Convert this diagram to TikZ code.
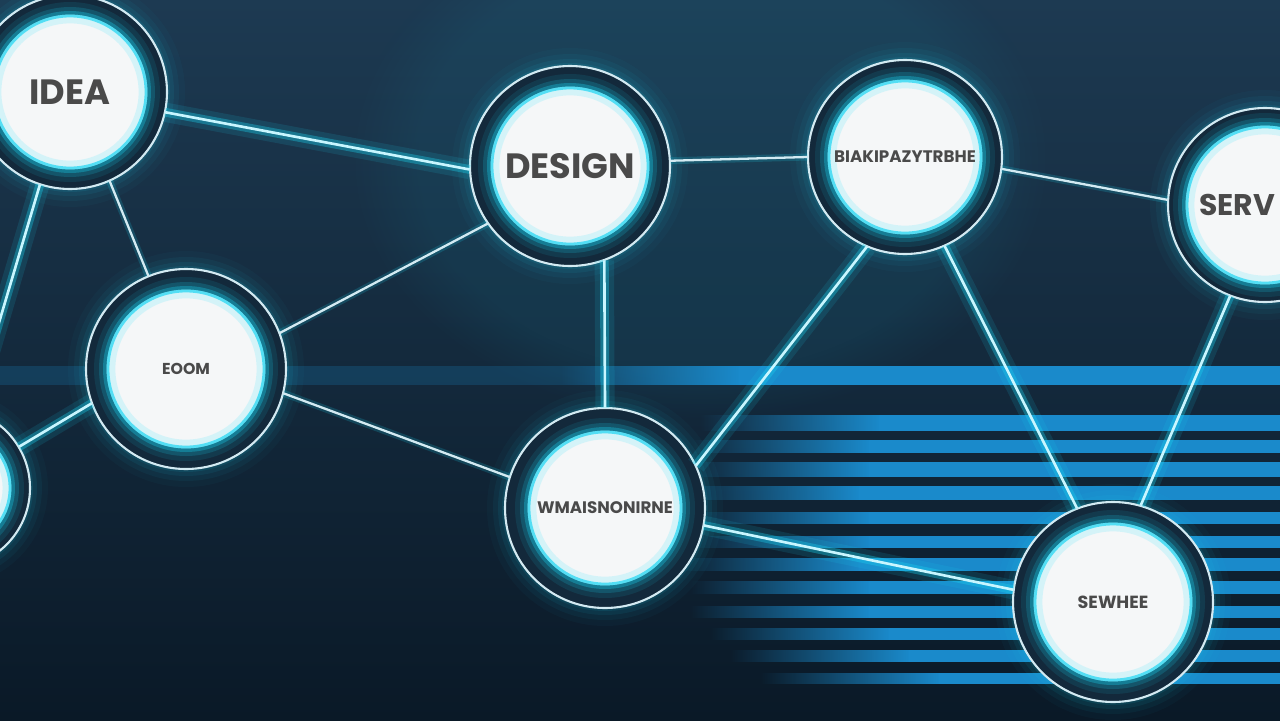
\documentclass[tikz,border=0pt]{standalone}
\usepackage{fontspec}
\setmainfont{Poppins}
\usetikzlibrary{fadings}
\definecolor{bgtop}{HTML}{1D3A52}
\definecolor{bgbot}{HTML}{0A1927}
\definecolor{stripe}{HTML}{1A8ACB}
\definecolor{ringdark}{HTML}{13293B}
\definecolor{ringline}{HTML}{D3EAF2}
\definecolor{glowc}{HTML}{19D3F0}
\definecolor{linecore}{HTML}{C8F6FF}
\definecolor{txt}{HTML}{4A4A4A}
\definecolor{wfill}{HTML}{F5F7F8}
\tikzfading[name=fadein, left color=transparent!100, right color=transparent!0]
\tikzset{
  link/.style={draw=linecore, line width=1.5pt,
    preaction={draw=glowc, line width=5pt, opacity=0.35},
    preaction={draw=glowc, line width=11pt, opacity=0.12}},
  linkw/.style={draw=ringline, line width=1.3pt,
    preaction={draw=glowc, line width=4pt, opacity=0.18}},
  lbl/.style={text=txt, font=\bfseries\fontsize{#1}{#1}\selectfont},
  hub/.style={circle, inner sep=0pt, minimum size=#1}
}
% name, x, y, R, r, fontsize, text
\newcommand\netnode[7]{%
  \foreach \k/\o in {18/0.03,12/0.05,7/0.07,3/0.09}
    \fill[glowc, opacity=\o] (#2,#3) circle[radius={(#4+\k)*0.02cm}];
  \fill[ringdark] (#2,#3) circle[radius={#4*0.02cm}];
  \foreach \k/\o in {14/0.10,9/0.18,5/0.32}
    \fill[glowc, opacity=\o] (#2,#3) circle[radius={(#5+\k)*0.02cm}];
  \fill[wfill] (#2,#3) circle[radius={#5*0.02cm}];
  \draw[glowc!35!white, line width=5pt, opacity=0.45] (#2,#3) circle[radius={(#5-3)*0.02cm}];
  \draw[glowc!75!white, line width=1.6pt] (#2,#3) circle[radius={#5*0.02cm}];
  \draw[ringline, line width=1.2pt] (#2,#3) circle[radius={#4*0.02cm}];
  \pgfmathsetmacro\hubD{2*#4*0.02cm}%
  \node[hub=\hubD pt, lbl=#6] (#1) at (#2,#3) {#7};
}
\begin{document}
\begin{tikzpicture}[x=0.02cm,y=-0.02cm]
\useasboundingbox (0,0) rectangle (1280,720);
\clip (0,0) rectangle (1280,720);
% background
\shade[top color=bgtop, bottom color=bgbot] (0,0) rectangle (1280,720);
\fill[glowc!40!bgtop, opacity=0.15, path fading=circle with fuzzy edge 20 percent] (350,-100) rectangle (1050,420);
% horizontal band across
\fill[stripe, opacity=0.22] (0,366) rectangle (1280,385);
% stripes
\foreach \ya/\yb/\xs in {366/385/560, 415/431/700, 440/453/690, 462/477/690, 486/500/680, 512/524/690, 536/548/690, 558/571/680, 581/594/690, 606/618/690, 628/640/710, 650/662/730, 673/684/760}{
  \fill[stripe, path fading=fadein] (\xs,\ya) rectangle ({\xs+180},\yb);
  \fill[stripe] ({\xs+179},\ya) rectangle (1280,\yb);
}
% nodes
\netnode{idea}{70}{92}{97}{76}{20}{IDEA}
\netnode{design}{570}{166}{100}{78}{20}{DESIGN}
\netnode{biaki}{905}{157}{97}{76}{9.5}{BIAKIPAZYTRBHE}
\netnode{serv}{1265}{205}{97}{78}{20}{}
\node[lbl=17, anchor=west] (servt) at (1193,205) {SERV};
\netnode{eoom}{186}{369}{100}{78}{9}{EOOM}
\netnode{left}{-50}{488}{80}{60}{9}{}
\netnode{wmais}{605}{508}{100}{76}{9.5}{WMAISNONIRNE}
\netnode{sewhee}{1113}{602}{100}{78}{10}{SEWHEE}
% connectors
\draw[link] (idea.-12) -- (design.182);
\draw[linkw] (idea.-66) -- (eoom.112);
\draw[link] (idea.-108) -- (left);
\draw[link] (eoom.200) -- (left);
\draw[linkw] (eoom.21) -- (design.215);
\draw[linkw] (eoom.-14) -- (wmais.162);
\draw[linkw] (design.3) -- (biaki.180);
\draw[link] (design.-70) -- (wmais.90);
\draw[link] (biaki.-113) -- (wmais.25);
\draw[link] (biaki.-66) -- (sewhee.111);
\draw[linkw] (biaki.-7) -- (serv.177);
\draw[link] (serv.-111) -- (sewhee.74);
\draw[link] (wmais.-10) -- (sewhee.173);
\end{tikzpicture}
\end{document}
